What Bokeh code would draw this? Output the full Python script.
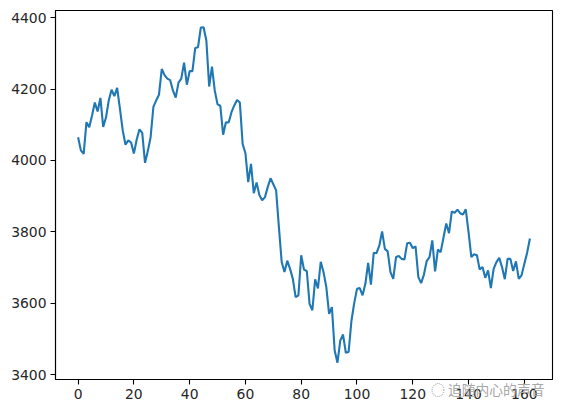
from bokeh.embed import file_html
from bokeh.models import FixedTicker, Range1d, Title
from bokeh.plotting import figure
from bokeh.resources import INLINE

values = [
    4065, 4028, 4018, 4107, 4093, 4126, 4162, 4137, 4175, 4094,
    4120, 4168, 4198, 4180, 4203, 4145, 4084, 4044, 4056, 4050,
    4019, 4058, 4087, 4077, 3993, 4026, 4065, 4150, 4168, 4184,
    4256, 4239, 4229, 4225, 4196, 4176, 4218, 4229, 4274, 4212,
    4250, 4250, 4315, 4317, 4372, 4373, 4335, 4207, 4263, 4196,
    4157, 4153, 4072, 4107, 4106, 4135, 4154, 4169, 4162, 4046,
    4020, 3939, 3990, 3908, 3938, 3903, 3888, 3897, 3925, 3950,
    3933, 3916, 3813, 3715, 3687, 3719, 3696, 3668, 3617, 3622,
    3734, 3694, 3690, 3598, 3580, 3667, 3641, 3716, 3687, 3645,
    3570, 3589, 3467, 3433, 3495, 3512, 3461, 3463, 3550, 3600,
    3640, 3642, 3622, 3654, 3713, 3652, 3741, 3740, 3761, 3801,
    3752, 3745, 3687, 3668, 3729, 3732, 3724, 3722, 3768, 3769,
    3754, 3759, 3673, 3656, 3680, 3718, 3729, 3776, 3689, 3750,
    3743, 3783, 3823, 3796, 3857, 3853, 3862, 3852, 3848, 3863,
    3799, 3729, 3737, 3734, 3694, 3701, 3671, 3692, 3642, 3696,
    3715, 3727, 3701, 3667, 3724, 3724, 3690, 3717, 3668, 3678,
    3710, 3741, 3781,
]
index = list(range(len(values)))
x_ticks = [0, 20, 40, 60, 80, 100, 120, 140, 160]
y_ticks = [3400, 3600, 3800, 4000, 4200, 4400]
watermark = "◌ 追随内心的声音"

p = figure(
    width=560, height=412, output_backend="svg", toolbar_location=None,
    x_range=Range1d(-8.1, 170.1), y_range=Range1d(3386, 4420),
    min_border_left=55, min_border_right=8, min_border_top=10, min_border_bottom=33,
    frame_width=497, frame_height=369,
    background_fill_color="white", border_fill_color="white",
)
p.grid.visible = False
p.outline_line_color = "black"
p.outline_line_width = 1.1
for ax, ticks in ((p.xaxis[0], x_ticks), (p.yaxis[0], y_ticks)):
    ax.ticker = FixedTicker(ticks=ticks)
    ax.minor_tick_line_color = None
    ax.major_tick_in = 0
    ax.major_tick_out = 5
    ax.major_tick_line_color = "black"
    ax.major_tick_line_width = 1.1
    ax.axis_line_color = "black"
    ax.axis_line_width = 1.1
    ax.major_label_text_font = "DejaVu Sans"
    ax.major_label_text_font_size = "13.9px"
    ax.major_label_text_color = "#262626"
p.xaxis[0].major_label_standoff = 4
p.yaxis[0].major_label_standoff = 4
p.yaxis[0].major_label_orientation = "horizontal"

p.line(index, values, line_color="#1f77b4", line_width=2.1)

mark = Title(
    text=watermark, align="right", offset=8, standoff=-38,
    text_font="Noto Sans CJK SC", text_font_size="13.8px", text_font_style="normal",
    text_color="#a8a8a8",
)
p.below.insert(0, mark)

open("out.html", "w").write(file_html(p, INLINE))
